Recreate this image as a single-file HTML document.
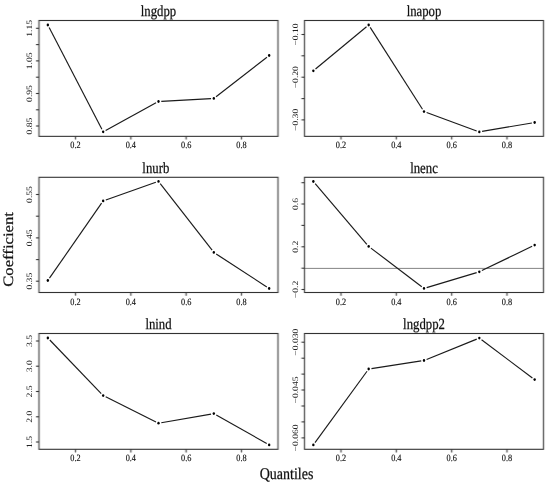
<!DOCTYPE html>
<html><head><meta charset="utf-8"><title>Quantile regression coefficients</title>
<style>
html,body{margin:0;padding:0;background:#fff;}
body{width:550px;height:488px;overflow:hidden;}
svg{display:block;}
text{font-family:"Liberation Serif","Times New Roman",serif;fill:#111;text-rendering:geometricPrecision;}
.t{stroke:#111;stroke-width:0.25px;}
.k{stroke:#111;stroke-width:0.15px;}
.ky{fill:#222;}
</style></head><body>
<svg width="550" height="488" viewBox="0 0 550 488">
<defs><filter id="hb" filterUnits="userSpaceOnUse" x="0" y="0" width="550" height="488"><feConvolveMatrix order="3 1" kernelMatrix="0.15 0.7 0.15" divisor="1" preserveAlpha="false" edgeMode="none"/></filter></defs>
<rect width="550" height="488" fill="#fff"/>
<g filter="url(#hb)">
<rect x="39.0" y="20.5" width="239.00" height="115.85" fill="none" stroke="#333" stroke-width="1.1"/>
<line x1="75.51" y1="136.35" x2="75.51" y2="139.55" stroke="#333" stroke-width="1.1"/>
<line x1="130.84" y1="136.35" x2="130.84" y2="139.55" stroke="#333" stroke-width="1.1"/>
<line x1="186.16" y1="136.35" x2="186.16" y2="139.55" stroke="#333" stroke-width="1.1"/>
<line x1="241.49" y1="136.35" x2="241.49" y2="139.55" stroke="#333" stroke-width="1.1"/>
<line x1="36.00" y1="28.3" x2="39.0" y2="28.3" stroke="#333" stroke-width="1.1"/>
<line x1="36.00" y1="44.6" x2="39.0" y2="44.6" stroke="#333" stroke-width="1.1"/>
<line x1="36.00" y1="60.9" x2="39.0" y2="60.9" stroke="#333" stroke-width="1.1"/>
<line x1="36.00" y1="77.2" x2="39.0" y2="77.2" stroke="#333" stroke-width="1.1"/>
<line x1="36.00" y1="93.5" x2="39.0" y2="93.5" stroke="#333" stroke-width="1.1"/>
<line x1="36.00" y1="109.8" x2="39.0" y2="109.8" stroke="#333" stroke-width="1.1"/>
<line x1="36.00" y1="126.0" x2="39.0" y2="126.0" stroke="#333" stroke-width="1.1"/>
<rect x="304.5" y="20.5" width="239.00" height="115.85" fill="none" stroke="#333" stroke-width="1.1"/>
<line x1="341.01" y1="136.35" x2="341.01" y2="139.55" stroke="#333" stroke-width="1.1"/>
<line x1="396.34" y1="136.35" x2="396.34" y2="139.55" stroke="#333" stroke-width="1.1"/>
<line x1="451.66" y1="136.35" x2="451.66" y2="139.55" stroke="#333" stroke-width="1.1"/>
<line x1="506.99" y1="136.35" x2="506.99" y2="139.55" stroke="#333" stroke-width="1.1"/>
<line x1="301.50" y1="34.5" x2="304.5" y2="34.5" stroke="#333" stroke-width="1.1"/>
<line x1="301.50" y1="55.8" x2="304.5" y2="55.8" stroke="#333" stroke-width="1.1"/>
<line x1="301.50" y1="77.2" x2="304.5" y2="77.2" stroke="#333" stroke-width="1.1"/>
<line x1="301.50" y1="98.6" x2="304.5" y2="98.6" stroke="#333" stroke-width="1.1"/>
<line x1="301.50" y1="119.9" x2="304.5" y2="119.9" stroke="#333" stroke-width="1.1"/>
<rect x="39.0" y="177.3" width="239.00" height="115.20" fill="none" stroke="#333" stroke-width="1.1"/>
<line x1="75.51" y1="292.5" x2="75.51" y2="295.70" stroke="#333" stroke-width="1.1"/>
<line x1="130.84" y1="292.5" x2="130.84" y2="295.70" stroke="#333" stroke-width="1.1"/>
<line x1="186.16" y1="292.5" x2="186.16" y2="295.70" stroke="#333" stroke-width="1.1"/>
<line x1="241.49" y1="292.5" x2="241.49" y2="295.70" stroke="#333" stroke-width="1.1"/>
<line x1="36.00" y1="194.5" x2="39.0" y2="194.5" stroke="#333" stroke-width="1.1"/>
<line x1="36.00" y1="216.2" x2="39.0" y2="216.2" stroke="#333" stroke-width="1.1"/>
<line x1="36.00" y1="237.9" x2="39.0" y2="237.9" stroke="#333" stroke-width="1.1"/>
<line x1="36.00" y1="259.6" x2="39.0" y2="259.6" stroke="#333" stroke-width="1.1"/>
<line x1="36.00" y1="281.2" x2="39.0" y2="281.2" stroke="#333" stroke-width="1.1"/>
<line x1="304.5" y1="268.4" x2="543.5" y2="268.4" stroke="#777" stroke-width="0.9"/>
<rect x="304.5" y="177.3" width="239.00" height="115.20" fill="none" stroke="#333" stroke-width="1.1"/>
<line x1="341.01" y1="292.5" x2="341.01" y2="295.70" stroke="#333" stroke-width="1.1"/>
<line x1="396.34" y1="292.5" x2="396.34" y2="295.70" stroke="#333" stroke-width="1.1"/>
<line x1="451.66" y1="292.5" x2="451.66" y2="295.70" stroke="#333" stroke-width="1.1"/>
<line x1="506.99" y1="292.5" x2="506.99" y2="295.70" stroke="#333" stroke-width="1.1"/>
<line x1="301.50" y1="182.7" x2="304.5" y2="182.7" stroke="#333" stroke-width="1.1"/>
<line x1="301.50" y1="204.0" x2="304.5" y2="204.0" stroke="#333" stroke-width="1.1"/>
<line x1="301.50" y1="225.4" x2="304.5" y2="225.4" stroke="#333" stroke-width="1.1"/>
<line x1="301.50" y1="246.8" x2="304.5" y2="246.8" stroke="#333" stroke-width="1.1"/>
<line x1="301.50" y1="268.2" x2="304.5" y2="268.2" stroke="#333" stroke-width="1.1"/>
<line x1="301.50" y1="289.5" x2="304.5" y2="289.5" stroke="#333" stroke-width="1.1"/>
<rect x="39.0" y="333.5" width="239.00" height="115.80" fill="none" stroke="#333" stroke-width="1.1"/>
<line x1="75.51" y1="449.3" x2="75.51" y2="452.50" stroke="#333" stroke-width="1.1"/>
<line x1="130.84" y1="449.3" x2="130.84" y2="452.50" stroke="#333" stroke-width="1.1"/>
<line x1="186.16" y1="449.3" x2="186.16" y2="452.50" stroke="#333" stroke-width="1.1"/>
<line x1="241.49" y1="449.3" x2="241.49" y2="452.50" stroke="#333" stroke-width="1.1"/>
<line x1="36.00" y1="341.0" x2="39.0" y2="341.0" stroke="#333" stroke-width="1.1"/>
<line x1="36.00" y1="366.2" x2="39.0" y2="366.2" stroke="#333" stroke-width="1.1"/>
<line x1="36.00" y1="391.5" x2="39.0" y2="391.5" stroke="#333" stroke-width="1.1"/>
<line x1="36.00" y1="416.8" x2="39.0" y2="416.8" stroke="#333" stroke-width="1.1"/>
<line x1="36.00" y1="442.0" x2="39.0" y2="442.0" stroke="#333" stroke-width="1.1"/>
<rect x="304.5" y="333.5" width="239.00" height="115.80" fill="none" stroke="#333" stroke-width="1.1"/>
<line x1="341.01" y1="449.3" x2="341.01" y2="452.50" stroke="#333" stroke-width="1.1"/>
<line x1="396.34" y1="449.3" x2="396.34" y2="452.50" stroke="#333" stroke-width="1.1"/>
<line x1="451.66" y1="449.3" x2="451.66" y2="452.50" stroke="#333" stroke-width="1.1"/>
<line x1="506.99" y1="449.3" x2="506.99" y2="452.50" stroke="#333" stroke-width="1.1"/>
<line x1="301.50" y1="342.2" x2="304.5" y2="342.2" stroke="#333" stroke-width="1.1"/>
<line x1="301.50" y1="358.2" x2="304.5" y2="358.2" stroke="#333" stroke-width="1.1"/>
<line x1="301.50" y1="374.1" x2="304.5" y2="374.1" stroke="#333" stroke-width="1.1"/>
<line x1="301.50" y1="390.0" x2="304.5" y2="390.0" stroke="#333" stroke-width="1.1"/>
<line x1="301.50" y1="406.0" x2="304.5" y2="406.0" stroke="#333" stroke-width="1.1"/>
<line x1="301.50" y1="421.9" x2="304.5" y2="421.9" stroke="#333" stroke-width="1.1"/>
<line x1="301.50" y1="437.9" x2="304.5" y2="437.9" stroke="#333" stroke-width="1.1"/>
</g>
<g>
<line x1="49.14" y1="27.49" x2="101.89" y2="129.31" stroke="#1a1a1a" stroke-width="1.15"/>
<line x1="105.63" y1="130.46" x2="156.04" y2="102.84" stroke="#1a1a1a" stroke-width="1.15"/>
<line x1="161.30" y1="101.34" x2="211.03" y2="98.56" stroke="#1a1a1a" stroke-width="1.15"/>
<line x1="216.04" y1="96.68" x2="266.94" y2="57.22" stroke="#1a1a1a" stroke-width="1.15"/>
<ellipse cx="47.85" cy="25.00" rx="1.2" ry="1.4" fill="#000"/>
<ellipse cx="103.18" cy="131.80" rx="1.2" ry="1.4" fill="#000"/>
<ellipse cx="158.50" cy="101.50" rx="1.2" ry="1.4" fill="#000"/>
<ellipse cx="213.82" cy="98.40" rx="1.2" ry="1.4" fill="#000"/>
<ellipse cx="269.15" cy="55.50" rx="1.2" ry="1.4" fill="#000"/>
<line x1="315.51" y1="69.01" x2="366.52" y2="26.79" stroke="#1a1a1a" stroke-width="1.15"/>
<line x1="370.18" y1="27.36" x2="422.49" y2="109.24" stroke="#1a1a1a" stroke-width="1.15"/>
<line x1="426.63" y1="112.56" x2="476.70" y2="130.94" stroke="#1a1a1a" stroke-width="1.15"/>
<line x1="482.08" y1="131.43" x2="531.89" y2="122.97" stroke="#1a1a1a" stroke-width="1.15"/>
<ellipse cx="313.35" cy="70.80" rx="1.2" ry="1.4" fill="#000"/>
<ellipse cx="368.68" cy="25.00" rx="1.2" ry="1.4" fill="#000"/>
<ellipse cx="424.00" cy="111.60" rx="1.2" ry="1.4" fill="#000"/>
<ellipse cx="479.32" cy="131.90" rx="1.2" ry="1.4" fill="#000"/>
<ellipse cx="534.65" cy="122.50" rx="1.2" ry="1.4" fill="#000"/>
<line x1="49.45" y1="278.20" x2="101.58" y2="203.20" stroke="#1a1a1a" stroke-width="1.15"/>
<line x1="105.82" y1="199.97" x2="155.86" y2="182.33" stroke="#1a1a1a" stroke-width="1.15"/>
<line x1="160.22" y1="183.61" x2="212.10" y2="250.19" stroke="#1a1a1a" stroke-width="1.15"/>
<line x1="216.17" y1="253.93" x2="266.80" y2="286.97" stroke="#1a1a1a" stroke-width="1.15"/>
<ellipse cx="47.85" cy="280.50" rx="1.2" ry="1.4" fill="#000"/>
<ellipse cx="103.18" cy="200.90" rx="1.2" ry="1.4" fill="#000"/>
<ellipse cx="158.50" cy="181.40" rx="1.2" ry="1.4" fill="#000"/>
<ellipse cx="213.82" cy="252.40" rx="1.2" ry="1.4" fill="#000"/>
<ellipse cx="269.15" cy="288.50" rx="1.2" ry="1.4" fill="#000"/>
<line x1="315.17" y1="183.63" x2="366.86" y2="244.27" stroke="#1a1a1a" stroke-width="1.15"/>
<line x1="370.91" y1="248.09" x2="421.77" y2="286.71" stroke="#1a1a1a" stroke-width="1.15"/>
<line x1="426.68" y1="287.60" x2="476.64" y2="272.60" stroke="#1a1a1a" stroke-width="1.15"/>
<line x1="481.85" y1="270.58" x2="532.13" y2="246.32" stroke="#1a1a1a" stroke-width="1.15"/>
<ellipse cx="313.35" cy="181.50" rx="1.2" ry="1.4" fill="#000"/>
<ellipse cx="368.68" cy="246.40" rx="1.2" ry="1.4" fill="#000"/>
<ellipse cx="424.00" cy="288.40" rx="1.2" ry="1.4" fill="#000"/>
<ellipse cx="479.32" cy="271.80" rx="1.2" ry="1.4" fill="#000"/>
<ellipse cx="534.65" cy="245.10" rx="1.2" ry="1.4" fill="#000"/>
<line x1="49.79" y1="340.02" x2="101.24" y2="393.58" stroke="#1a1a1a" stroke-width="1.15"/>
<line x1="105.68" y1="396.85" x2="155.99" y2="421.95" stroke="#1a1a1a" stroke-width="1.15"/>
<line x1="161.26" y1="422.72" x2="211.07" y2="414.08" stroke="#1a1a1a" stroke-width="1.15"/>
<line x1="216.26" y1="414.98" x2="266.71" y2="443.52" stroke="#1a1a1a" stroke-width="1.15"/>
<ellipse cx="47.85" cy="338.00" rx="1.2" ry="1.4" fill="#000"/>
<ellipse cx="103.18" cy="395.60" rx="1.2" ry="1.4" fill="#000"/>
<ellipse cx="158.50" cy="423.20" rx="1.2" ry="1.4" fill="#000"/>
<ellipse cx="213.82" cy="413.60" rx="1.2" ry="1.4" fill="#000"/>
<ellipse cx="269.15" cy="444.90" rx="1.2" ry="1.4" fill="#000"/>
<line x1="315.00" y1="442.69" x2="367.03" y2="371.26" stroke="#1a1a1a" stroke-width="1.15"/>
<line x1="371.44" y1="368.57" x2="421.23" y2="360.93" stroke="#1a1a1a" stroke-width="1.15"/>
<line x1="426.60" y1="359.45" x2="476.73" y2="339.15" stroke="#1a1a1a" stroke-width="1.15"/>
<line x1="481.56" y1="339.78" x2="532.41" y2="377.92" stroke="#1a1a1a" stroke-width="1.15"/>
<ellipse cx="313.35" cy="444.95" rx="1.2" ry="1.4" fill="#000"/>
<ellipse cx="368.68" cy="369.00" rx="1.2" ry="1.4" fill="#000"/>
<ellipse cx="424.00" cy="360.50" rx="1.2" ry="1.4" fill="#000"/>
<ellipse cx="479.32" cy="338.10" rx="1.2" ry="1.4" fill="#000"/>
<ellipse cx="534.65" cy="379.60" rx="1.2" ry="1.4" fill="#000"/>
</g>
<g>
<text class="k" transform="translate(75.51,147.95) scale(0.86,1)" text-anchor="middle" font-size="9.6">0.2</text>
<text class="k" transform="translate(130.84,147.95) scale(0.86,1)" text-anchor="middle" font-size="9.6">0.4</text>
<text class="k" transform="translate(186.16,147.95) scale(0.86,1)" text-anchor="middle" font-size="9.6">0.6</text>
<text class="k" transform="translate(241.49,147.95) scale(0.86,1)" text-anchor="middle" font-size="9.6">0.8</text>
<text class="ky" transform="translate(31.50,28.3) rotate(-90) scale(1,0.86)" text-anchor="middle" font-size="9.6">1.15</text>
<text class="ky" transform="translate(31.50,60.9) rotate(-90) scale(1,0.86)" text-anchor="middle" font-size="9.6">1.05</text>
<text class="ky" transform="translate(31.50,93.5) rotate(-90) scale(1,0.86)" text-anchor="middle" font-size="9.6">0.95</text>
<text class="ky" transform="translate(31.50,126.0) rotate(-90) scale(1,0.86)" text-anchor="middle" font-size="9.6">0.85</text>
<text class="t" transform="translate(158.50,15.90) scale(0.822,1)" text-anchor="middle" font-size="15.5">lngdpp</text>
<text class="k" transform="translate(341.01,147.95) scale(0.86,1)" text-anchor="middle" font-size="9.6">0.2</text>
<text class="k" transform="translate(396.34,147.95) scale(0.86,1)" text-anchor="middle" font-size="9.6">0.4</text>
<text class="k" transform="translate(451.66,147.95) scale(0.86,1)" text-anchor="middle" font-size="9.6">0.6</text>
<text class="k" transform="translate(506.99,147.95) scale(0.86,1)" text-anchor="middle" font-size="9.6">0.8</text>
<text class="ky" transform="translate(298.10,34.5) rotate(-90) scale(1,0.86)" text-anchor="middle" font-size="9.6">−0.10</text>
<text class="ky" transform="translate(298.10,77.2) rotate(-90) scale(1,0.86)" text-anchor="middle" font-size="9.6">−0.20</text>
<text class="ky" transform="translate(298.10,119.9) rotate(-90) scale(1,0.86)" text-anchor="middle" font-size="9.6">−0.30</text>
<text class="t" transform="translate(424.00,15.90) scale(0.822,1)" text-anchor="middle" font-size="15.5">lnapop</text>
<text class="k" transform="translate(75.51,304.70) scale(0.86,1)" text-anchor="middle" font-size="9.6">0.2</text>
<text class="k" transform="translate(130.84,304.70) scale(0.86,1)" text-anchor="middle" font-size="9.6">0.4</text>
<text class="k" transform="translate(186.16,304.70) scale(0.86,1)" text-anchor="middle" font-size="9.6">0.6</text>
<text class="k" transform="translate(241.49,304.70) scale(0.86,1)" text-anchor="middle" font-size="9.6">0.8</text>
<text class="ky" transform="translate(31.50,194.5) rotate(-90) scale(1,0.86)" text-anchor="middle" font-size="9.6">0.55</text>
<text class="ky" transform="translate(31.50,237.9) rotate(-90) scale(1,0.86)" text-anchor="middle" font-size="9.6">0.45</text>
<text class="ky" transform="translate(31.50,281.2) rotate(-90) scale(1,0.86)" text-anchor="middle" font-size="9.6">0.35</text>
<text class="t" transform="translate(155.80,172.70) scale(0.822,1)" text-anchor="middle" font-size="15.5">lnurb</text>
<text class="k" transform="translate(341.01,304.70) scale(0.86,1)" text-anchor="middle" font-size="9.6">0.2</text>
<text class="k" transform="translate(396.34,304.70) scale(0.86,1)" text-anchor="middle" font-size="9.6">0.4</text>
<text class="k" transform="translate(451.66,304.70) scale(0.86,1)" text-anchor="middle" font-size="9.6">0.6</text>
<text class="k" transform="translate(506.99,304.70) scale(0.86,1)" text-anchor="middle" font-size="9.6">0.8</text>
<text class="ky" transform="translate(298.10,204.0) rotate(-90) scale(1,0.86)" text-anchor="middle" font-size="9.6">0.6</text>
<text class="ky" transform="translate(298.10,246.8) rotate(-90) scale(1,0.86)" text-anchor="middle" font-size="9.6">0.2</text>
<text class="ky" transform="translate(298.10,289.5) rotate(-90) scale(1,0.86)" text-anchor="middle" font-size="9.6">−0.2</text>
<text class="t" transform="translate(424.00,172.70) scale(0.822,1)" text-anchor="middle" font-size="15.5">lnenc</text>
<text class="k" transform="translate(75.51,460.90) scale(0.86,1)" text-anchor="middle" font-size="9.6">0.2</text>
<text class="k" transform="translate(130.84,460.90) scale(0.86,1)" text-anchor="middle" font-size="9.6">0.4</text>
<text class="k" transform="translate(186.16,460.90) scale(0.86,1)" text-anchor="middle" font-size="9.6">0.6</text>
<text class="k" transform="translate(241.49,460.90) scale(0.86,1)" text-anchor="middle" font-size="9.6">0.8</text>
<text class="ky" transform="translate(31.50,341.0) rotate(-90) scale(1,0.86)" text-anchor="middle" font-size="9.6">3.5</text>
<text class="ky" transform="translate(31.50,366.2) rotate(-90) scale(1,0.86)" text-anchor="middle" font-size="9.6">3.0</text>
<text class="ky" transform="translate(31.50,391.5) rotate(-90) scale(1,0.86)" text-anchor="middle" font-size="9.6">2.5</text>
<text class="ky" transform="translate(31.50,416.8) rotate(-90) scale(1,0.86)" text-anchor="middle" font-size="9.6">2.0</text>
<text class="ky" transform="translate(31.50,442.0) rotate(-90) scale(1,0.86)" text-anchor="middle" font-size="9.6">1.5</text>
<text class="t" transform="translate(158.50,328.90) scale(0.822,1)" text-anchor="middle" font-size="15.5">lnind</text>
<text class="k" transform="translate(341.01,460.90) scale(0.86,1)" text-anchor="middle" font-size="9.6">0.2</text>
<text class="k" transform="translate(396.34,460.90) scale(0.86,1)" text-anchor="middle" font-size="9.6">0.4</text>
<text class="k" transform="translate(451.66,460.90) scale(0.86,1)" text-anchor="middle" font-size="9.6">0.6</text>
<text class="k" transform="translate(506.99,460.90) scale(0.86,1)" text-anchor="middle" font-size="9.6">0.8</text>
<text class="ky" transform="translate(298.10,342.2) rotate(-90) scale(1,0.86)" text-anchor="middle" font-size="9.6">−0.030</text>
<text class="ky" transform="translate(298.10,390.0) rotate(-90) scale(1,0.86)" text-anchor="middle" font-size="9.6">−0.045</text>
<text class="ky" transform="translate(298.10,437.9) rotate(-90) scale(1,0.86)" text-anchor="middle" font-size="9.6">−0.060</text>
<text class="t" transform="translate(424.00,328.90) scale(0.822,1)" text-anchor="middle" font-size="15.5">lngdpp2</text>
<text class="t" transform="translate(286.5,479.3) scale(0.86,1)" text-anchor="middle" font-size="16.3">Quantiles</text>
<text class="t" transform="translate(13.1,249.4) rotate(-90) scale(1,0.86)" text-anchor="middle" font-size="16.7">Coefficient</text>
</g>
</svg>
</body></html>
